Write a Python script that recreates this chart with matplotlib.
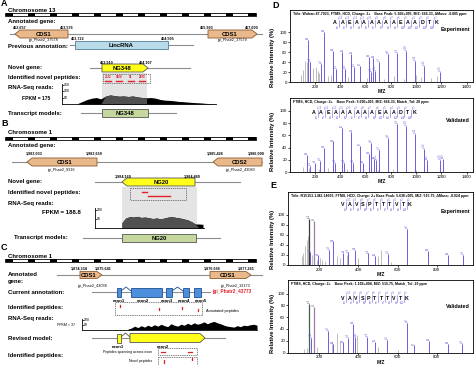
import matplotlib
matplotlib.use("Agg")
import matplotlib.pyplot as plt
import numpy as np
from matplotlib.patches import Polygon, Rectangle

plt.rcParams["font.family"] = ["Liberation Sans", "DejaVu Sans"]

W, H = 474, 365

# ---------------- data: panel A ----------------
A_CHROM = "Chromosome 13"
A_CDS_NAMES = ["CDS1", "CDS1"]
A_CDS_COORDS = [("462,657", "463,576"), ("465,993", "467,000")]
A_CDS_IDS = ["jgi_Phatr2_37578", "jgi_Phatr2_37579"]
A_LINC = ["LincRNA", "463,722", "464,505"]
A_NOVEL = ["NG348", "463,910", "464,107"]
A_PEPTIDES = ["2532", "3668", "56", "2699"]
A_FPKM = "175"
A_COV = [5, 20, 35, 45, 50, 40, 60, 70, 65, 60, 62, 58, 62, 55, 50, 48,
         50, 45, 35, 30, 28, 25, 20, 18, 15, 12, 10, 8, 5, 2, 0]

# ---------------- data: panel B ----------------
B_CHROM = "Chromosome 1"
B_CDS_NAMES = ["CDS1", "CDS2"]
B_CDS_COORDS = [("1,983,033", "1,983,659"), ("1,985,426", "1,986,000")]
B_CDS_IDS = ["jgi_Phatr2_9316", "jgi_Phatr2_43083"]
B_NOVEL = ["NG20", "1,984,169", "1,984,480"]
B_FPKM = "188.8"
B_COV = [30, 55, 62, 60, 64, 58, 60, 56, 52, 55, 50, 55, 60, 62, 58, 55,
         50, 45, 35, 22, 22, 20]

# ---------------- data: panel C ----------------
C_CHROM = "Chromosome 1"
C_CDS_COORDS = [("1,874,334", "1,875,641"), ("1,876,656", "1,877,261")]
C_CDS_IDS = ["jgi_Phatr2_43038", "jgi_Phatr2_32173"]
C_CURRENT_ID = "jgi_Phatr2_43773"
C_EXONS = ["exon1", "exon2", "exon3", "exon4", "exon5"]
C_REVISED_EXONS = ["exon1", "exon2"]
C_FPKM = "37"
C_COV = [5, 15, 35, 20, 40, 25, 45, 30, 50, 35, 55, 40, 30, 60, 45, 35,
         55, 45, 65, 50, 70, 55, 65, 80, 60, 75, 85, 70, 60, 45, 35, 30,
         25, 40, 30, 45, 40, 50, 55, 45]

# ---------------- data: panel D spectra ----------------
D_SEQ = "AAEAAAAAAEAADTK"
D_EXP_TITLE = ("Title: Wuhan-87-7923, FTMS, HCD, Charge: 2+    Base Peak: 5.16E+005, "
               "M/Z: 666.33, \u0394Mass: -0.005 ppm")
D_EXP_MZ = [140, 157, 245, 271, 343, 363, 415, 434, 487, 505, 556, 627, 641,
            661, 674, 705, 776, 847, 918, 989, 1060, 1189]
D_EXP_INT = [85, 40, 37, 100, 62, 27, 60, 27, 56, 30, 32, 50, 20, 48, 22, 40,
             56, 58, 62, 42, 32, 20]
D_EXP_ION = ["b2", "y1", "y2", "b3", "b4", "y3", "b5", "y4", "b6", "y5", "b7",
             "b8", "y6", "b9", "y6+", "y7", "y8", "y9", "y10", "y11", "y12", "y13"]
D_EXP_OTHER_MZ = [87, 100, 118, 134, 179, 205, 218, 232, 298, 324, 456, 482,
                  614, 746, 825, 904, 997, 1036, 1116, 1168]
D_EXP_OTHER_INT = [15, 25, 42, 40, 28, 30, 22, 18, 12, 15, 10, 8, 8, 6, 12, 6,
                   15, 10, 8, 12]

D_VAL_TITLE = ("FTMS, HCD, Charge: 2+    Base Peak: 5.00E+003, M/Z: 666.33, "
               "Match_Tol: 20 ppm")
D_VAL_MZ = [131, 157, 196, 235, 268, 340, 358, 410, 428, 487, 502, 556, 578,
            622, 641, 662, 682, 706, 777, 850, 922, 990, 1059, 1085, 1189, 1214]
D_VAL_INT = [28, 10, 15, 18, 40, 50, 15, 72, 15, 65, 15, 42, 15, 30, 48, 22,
             20, 36, 55, 78, 75, 62, 38, 20, 20, 22]
D_VAL_ION = ["b2", "y1", "a3", "y2", "b3", "b4", "y3", "b5", "y4", "b6", "y5",
             "b7", "a8", "b8", "y6", "b9", "y6+", "y7", "y8", "y9", "y10",
             "y11", "y12", "b12", "y13", "b13"]
D_VAL_OTHER_MZ = [100, 150, 230, 300, 450, 580, 700, 820, 1000]
D_VAL_OTHER_INT = [8, 6, 5, 6, 5, 5, 4, 5, 3]

# ---------------- data: panel E spectra ----------------
E_SEQ = "VAVSPTTTVTK"
E_EXP_TITLE = ("Title: R15153-1-M3.14666, FTMS, HCD, Charge: 2+ Base Peak: 5.63E+005, "
               "M/Z: 515.75, \u0394Mass: -0.024 ppm")
E_EXP_MZ = [152, 192, 248, 270, 323, 347, 381, 448, 482, 549, 650, 757, 856, 933]
E_EXP_INT = [25, 19, 30, 47, 24, 25, 30, 23, 18, 22, 72, 28, 20, 20]
E_EXP_ION = ["y1+", "a2", "y2", "b3", "a4", "y3", "b4", "y4", "b5", "y5", "y6",
             "b8", "b9", "y9"]
E_EXP_KEY_MZ = [147, 171]
E_EXP_KEY_INT = [92, 87]
E_EXP_OTHER_MZ = [110, 119, 127, 136, 141, 161, 186, 203, 212, 229, 290, 305,
                  339, 398, 499, 516, 567]
E_EXP_OTHER_INT = [18, 23, 37, 50, 57, 20, 10, 13, 10, 7, 17, 13, 20, 13, 17, 30, 5]

E_VAL_TITLE = ("FTMS, HCD, Charge: 2+    Base Peak: 1.10E+004, M/Z: 515.75, "
               "Match_Tol: 20 ppm")
E_VAL_MZ = [158, 246, 271, 322, 347, 372, 384, 445, 482, 546, 650, 682, 758, 857, 930]
E_VAL_INT = [25, 37, 15, 17, 25, 48, 27, 26, 18, 22, 50, 12, 20, 15, 15]
E_VAL_ION = ["y1+", "y2", "b3", "a4", "y3", "b4", "a4+", "y4", "b5", "y5", "y6",
             "b7", "b8", "b9", "y9"]
E_VAL_KEY_MZ = [148, 171]
E_VAL_KEY_INT = [82, 77]
E_VAL_OTHER_MZ = [120, 135, 186, 263, 288, 305, 391, 499, 600]
E_VAL_OTHER_INT = [6, 8, 10, 18, 33, 20, 30, 10, 4]
KEY_IONS = ["y1", "b2"]

# ---------------- style ----------------
LINE = "#8c8c8c"
TAN = "#e9b98b"
TAN_EDGE = "#8a5a30"
YELLOW = "#ffff1a"
BLUE_BOX = "#b9dbe9"
GREEN_BOX = "#c4d89e"
EXON_BLUE = "#4d8fdc"
RED = "#e0202a"
PEAK_BLUE = "#6c5ce0"
PEAK_GREY = "#bdbdbd"
LBL = 4.3      # row label size
TINY = 2.7     # coordinate label size

fig = plt.figure(figsize=(W / 100, H / 100), dpi=100)
cv = fig.add_axes([0, 0, 1, 1])
cv.set_xlim(0, W)
cv.set_ylim(H, 0)
cv.axis("off")


def label(x, y, s, size=LBL, bold=True, color="black", ha="left"):
    cv.text(x, y, s, fontsize=size, fontweight="bold" if bold else "normal",
            color=color, ha=ha, va="center", zorder=6)


def track(x0, x1, y):
    cv.plot([x0, x1], [y, y], color=LINE, lw=0.8, zorder=1)


def chrom_bar(y, x0=5, x1=256):
    cv.add_patch(Rectangle((x0, y - 1.8), x1 - x0, 3.6, fc="white", ec="black",
                           lw=0.6, zorder=2))
    for xs in np.arange(x0 + 1, x1 - 6, 22):
        cv.add_patch(Rectangle((xs, y - 1.8), 7, 3.6, fc="black", lw=0, zorder=3))
    cv.add_patch(Rectangle((x1 - 7, y - 1.8), 7, 3.6, fc="black", lw=0, zorder=3))


def feature(x0, x1, y, fc, ec="#444444", text=None, arrow=None, h=8, size=4.2):
    hh = h / 2
    tip = 5
    if arrow == "left":
        pts = [(x0 - tip, y), (x0, y - hh), (x1, y - hh), (x1, y + hh), (x0, y + hh)]
    elif arrow == "right":
        pts = [(x0, y - hh), (x1, y - hh), (x1 + tip, y), (x1, y + hh), (x0, y + hh)]
    else:
        pts = [(x0, y - hh), (x1, y - hh), (x1, y + hh), (x0, y + hh)]
    cv.add_patch(Polygon(pts, closed=True, fc=fc, ec=ec, lw=0.6, zorder=4))
    if text:
        label((x0 + x1) / 2, y + 0.3, text, size=size, ha="center")


def chevron(xa, xb, y, color="#1f4f8f"):
    cv.plot([xa, (xa + xb) / 2, xb], [y - 1, y - 5, y - 1], color=color, lw=0.6, zorder=3)


def dashed_box(x0, y0, x1, y1):
    cv.add_patch(Rectangle((x0, y0), x1 - x0, y1 - y0, fc="none", ec="#555555",
                           lw=0.5, ls=(0, (2, 1.2)), zorder=5))


def coverage(left, right, top, bottom, ymax, ticks, vals, x_from, x_to, hl=None):
    ax = fig.add_axes([left / W, 1 - bottom / H, (right - left) / W, (bottom - top) / H])
    ax.patch.set_alpha(0)
    xs = np.linspace(x_from, x_to, len(vals))
    ax.fill_between(xs, 0, vals, color="black", lw=0)
    if hl is not None:
        mask = (xs >= hl[0]) & (xs <= hl[1])
        ax.fill_between(xs, 0, vals, where=mask, color="#505050", lw=0, interpolate=True)
    ax.set_xlim(left, right)
    ax.set_ylim(0, ymax)
    for s in ["top", "right"]:
        ax.spines[s].set_visible(False)
    for s in ["left", "bottom"]:
        ax.spines[s].set_linewidth(0.6)
    ax.set_xticks([])
    ax.set_yticks(ticks)
    ax.tick_params(axis="y", direction="in", length=1.5, width=0.5, labelleft=False)
    for t in ticks:
        ax.text(left + 2.2, t, str(t), fontsize=2.5, va="center", ha="left")
    return ax


# ================= Panel A =================
label(1, 4, "A", size=6.5)
label(8, 10, A_CHROM)
chrom_bar(14.5)
label(8, 21, "Annotated gene:")
track(10, 262, 34)
feature(20, 68, 34, TAN, TAN_EDGE, A_CDS_NAMES[0], "left")
feature(208, 252, 34, TAN, TAN_EDGE, A_CDS_NAMES[1], "right")
for cx, (c0, c1), gid, (x0, x1) in zip([43, 232], A_CDS_COORDS, A_CDS_IDS,
                                       [(20, 67), (207, 252)]):
    label(x0, 27.5, c0, size=TINY, ha="center")
    label(x1, 27.5, c1, size=TINY, ha="center")
    label(cx, 40.5, gid, size=TINY, ha="center", bold=False)

label(8, 46, "Previous annotation:")
track(70, 193, 45)
feature(75, 168, 45, BLUE_BOX, "#4f7f99", A_LINC[0])
label(78, 38, A_LINC[1], size=TINY, ha="center")
label(168, 38, A_LINC[2], size=TINY, ha="center")

label(8, 68, "Novel gene:")
track(90, 190, 68)
feature(102, 143, 68, YELLOW, "#555555", A_NOVEL[0], "right")
label(107, 62, A_NOVEL[1], size=TINY, ha="center")
label(146, 62, A_NOVEL[2], size=TINY, ha="center")

cv.add_patch(Rectangle((102, 73), 45, 31, fc="#e4e4e4", lw=0, zorder=0))
label(8, 78, "Identified novel peptides:")
dashed_box(103, 74, 150, 83)
for i, p in enumerate(A_PEPTIDES):
    px = 108 + i * 11.5
    label(px, 77, p, size=2.2, color=RED, ha="center")
    cv.plot([px - 3, px + 3], [80.5, 80.5], color=RED, lw=1.0, zorder=6)

label(8, 88, "RNA-Seq reads:")
label(22, 98, f"FPKM = {A_FPKM}", size=3.6)
coverage(62, 216, 84, 104, 155, [50, 100, 150], A_COV, 78, 215, hl=(102, 147))

label(8, 113, "Transcript models:")
track(81, 176, 113)
feature(102, 148, 113, GREEN_BOX, "#555555", A_NOVEL[0])

# ================= Panel B =================
label(1, 124, "B", size=6.5)
label(8, 132, B_CHROM)
chrom_bar(138.5)
label(8, 145, "Annotated gene:")
track(12, 262, 162)
feature(32, 97, 162, TAN, TAN_EDGE, B_CDS_NAMES[0], "left")
feature(218, 262, 162, TAN, TAN_EDGE, B_CDS_NAMES[1], "left")
for cx, (c0, c1), gid, (x0, x1) in zip([61, 240], B_CDS_COORDS, B_CDS_IDS,
                                       [(34, 94), (215, 256)]):
    label(x0, 153.5, c0, size=TINY, ha="center")
    label(x1, 153.5, c1, size=TINY, ha="center")
    label(cx, 170, gid, size=TINY, ha="center", bold=False)

label(8, 182, "Novel gene:")
track(95, 240, 182)
feature(127, 195, 182, YELLOW, "#555555", B_NOVEL[0], "left")
label(123, 176, B_NOVEL[1], size=TINY, ha="center")
label(192, 176, B_NOVEL[2], size=TINY, ha="center")

cv.add_patch(Rectangle((122, 186.5), 75, 41.5, fc="#e4e4e4", lw=0, zorder=0))
label(8, 192.5, "Identified novel peptides:")
dashed_box(130, 188, 186, 200)
cv.plot([142, 147], [191.5, 191.5], color=RED, lw=1.0, zorder=6)
cv.plot([148, 170], [195.5, 195.5], color=RED, lw=1.0, zorder=6)

label(8, 203, "RNA-Seq reads:")
label(42, 212, f"FPKM = {B_FPKM}", size=4.3)
coverage(95, 204, 208, 228, 110, [50, 100], B_COV, 122, 203, hl=(122, 196))

label(14, 238, "Transcript models:")
track(83, 220, 238)
feature(122, 196, 238, GREEN_BOX, "#555555", B_NOVEL[0])

# ================= Panel C =================
label(1, 247, "C", size=6.5)
label(8, 256, C_CHROM)
chrom_bar(260.5)
label(8, 274, "Annotated")
label(8, 282, "gene:")
track(57, 262, 275)
feature(80, 97, 275, TAN, TAN_EDGE, "CDS1", "right", h=7)
feature(210, 246, 275, TAN, TAN_EDGE, "CDS1", "right", h=7)
for cx, (c0, c1), gid, (x0, x1) in zip([92, 235], C_CDS_COORDS, C_CDS_IDS,
                                       [(79, 103), (212, 246)]):
    label(x0, 268, c0, size=TINY, ha="center")
    label(x1, 268, c1, size=TINY, ha="center")
    label(cx, 286, gid, size=TINY, ha="center", bold=False)

label(8, 292, "Current annotation:")
track(92, 210, 292)
exon_x = [(117, 121), (131, 162), (166, 172), (183, 189), (194, 201)]
exon_lx = [119, 143, 167, 184, 201]
for (x0, x1), name, lx in zip(exon_x, C_EXONS, exon_lx):
    feature(x0, x1, 292, EXON_BLUE, "#1f4f8f", h=9)
    label(lx, 301, name, size=3.1, ha="center")
chevron(121, 131, 292)
chevron(172, 183, 292)
label(212, 292, C_CURRENT_ID, size=3.4, color=RED)

label(8, 308, "Identified peptides:")
dashed_box(115, 302, 202, 315)
for px, py in zip([120, 159, 182, 198], [306, 309, 308, 310]):
    cv.plot([px, px], [py - 1.2, py + 1.2], color=RED, lw=0.9, zorder=6)
label(206, 311, "Annotated peptides", size=2.8, bold=False)

label(8, 318.5, "RNA-Seq reads:")
label(57, 325, f"FPKM = {C_FPKM}", size=2.6, bold=False)
coverage(82, 257, 319, 329.5, 110, [50, 100], C_COV, 128, 257)

label(8, 338, "Revised model:")
track(92, 225, 338)
feature(117, 121, 338, YELLOW, "#555555", h=9)
chevron(121, 130, 338, color="#555555")
feature(130, 200, 338, YELLOW, "#555555", arrow="right", h=9)
label(118, 347, C_REVISED_EXONS[0], size=3.1, ha="center")
label(163, 347, C_REVISED_EXONS[1], size=3.1, ha="center")

label(8, 356, "Identified peptides:")
label(152, 352, "Peptides spanning across exon", size=2.5, ha="right", bold=False)
dashed_box(158, 348, 197, 355)
label(152, 361, "Novel peptides", size=2.5, ha="right", bold=False)
dashed_box(158, 357, 197, 364.5)
for px, py in zip([163, 190], [351.5, 351.5]):
    cv.plot([px - 2, px + 2], [py, py], color=RED, lw=0.9, zorder=6)
for px, py in zip([164, 192], [361.5, 359]):
    cv.plot([px, px], [py - 1.3, py + 1.3], color=RED, lw=0.9, zorder=6)


# ================= Spectra =================
def spectrum(box, xlim, ymax, xticks, mz, inten, ions, omz, oint, title, tag,
             tag_y, seq, seq_x, seq_y, key_mz=(), key_int=(), key_col=()):
    left, top, right, bottom = box
    ax = fig.add_axes([left / W, 1 - bottom / H, (right - left) / W, (bottom - top) / H])
    ax.vlines(omz, 0, oint, color=PEAK_GREY, lw=0.7)
    ax.vlines(mz, 0, inten, color=PEAK_BLUE, lw=0.7)
    for m, v, s in zip(mz, inten, ions):
        ax.text(m, v + 1.5, s, rotation=90, fontsize=2.0, color=PEAK_BLUE,
                ha="center", va="bottom")
    for m, v, c, s in zip(key_mz, key_int, key_col, KEY_IONS):
        ax.vlines(m, 0, v, color=c, lw=0.9)
        ax.text(m, v + 1.5, s, rotation=90, fontsize=2.0, color=c,
                ha="center", va="bottom")
    ax.set_xlim(*xlim)
    ax.set_ylim(0, ymax)
    ax.set_xticks(xticks)
    ax.set_yticks([0, 20, 40, 60, 80, 100])
    ax.tick_params(labelsize=3.2, length=1.5, width=0.5, pad=0.6)
    for s in ax.spines.values():
        s.set_linewidth(0.6)
    ax.set_xlabel("M/Z", fontsize=3.4, fontweight="bold", labelpad=0.2)
    ax.set_ylabel("Relative Intensity (%)", fontsize=4.2, fontweight="bold")
    ax.yaxis.set_label_coords((275 - left) / (right - left), 50 / ymax)
    ax.text(0.015, 0.975, title, transform=ax.transAxes, fontsize=2.5,
            fontweight="bold", va="top", ha="left")
    ax.text(0.985, (bottom - tag_y) / (bottom - top), tag, transform=ax.transAxes,
            fontsize=3.9, fontweight="bold", va="center", ha="right")
    # peptide sequence with fragment marks
    n = len(seq)
    step = (seq_x[1] - seq_x[0]) / (n - 1)
    fx = lambda px: (px - left) / (right - left)
    fy = lambda py: (bottom - py) / (bottom - top)
    for i, aa in enumerate(seq):
        ax.text(fx(seq_x[0] + i * step), fy(seq_y), aa, transform=ax.transAxes,
                fontsize=3.8, fontweight="bold", ha="center", va="center")
    for i in range(1, n):
        gx = seq_x[0] + (i - 0.5) * step
        ax.plot([fx(gx), fx(gx)], [fy(seq_y - 3.5), fy(seq_y + 3.5)],
                transform=ax.transAxes, color=PEAK_BLUE, lw=0.4)
        ax.text(fx(gx + 1.5), fy(seq_y - 5), f"y{n - i}", transform=ax.transAxes,
                fontsize=1.8, color=PEAK_BLUE, ha="center", va="center")
        ax.text(fx(gx - 1.5), fy(seq_y + 5), f"b{i}", transform=ax.transAxes,
                fontsize=1.8, color=PEAK_BLUE, ha="center", va="center")
    return ax


label(272, 5, "D", size=6.5)
label(270, 185, "E", size=6.5)

d_ticks = [200, 400, 600, 800, 1000, 1200, 1400]
e_ticks = [200, 400, 600, 800]
key_cols_exp = ["#3a3a3a", "#9c7fa8"]
key_cols_val = ["#4d5d55", "#9c7fa8"]

spectrum((290, 10, 473, 82), (0, 1450), 144, d_ticks, D_EXP_MZ, D_EXP_INT,
         D_EXP_ION, D_EXP_OTHER_MZ, D_EXP_OTHER_INT, D_EXP_TITLE, "Experiment",
         30, D_SEQ, (335, 437), 23)
spectrum((290, 98, 473, 172), (0, 1450), 121, d_ticks, D_VAL_MZ, D_VAL_INT,
         D_VAL_ION, D_VAL_OTHER_MZ, D_VAL_OTHER_INT, D_VAL_TITLE, "Validated",
         121, D_SEQ, (314, 415), 113)
spectrum((288, 192, 473, 265), (40, 985), 145, e_ticks, E_EXP_MZ, E_EXP_INT,
         E_EXP_ION, E_EXP_OTHER_MZ, E_EXP_OTHER_INT, E_EXP_TITLE, "Experiment",
         212, E_SEQ, (343, 410), 205, E_EXP_KEY_MZ, E_EXP_KEY_INT, key_cols_exp)
spectrum((288, 280, 473, 352.5), (40, 985), 123, e_ticks, E_VAL_MZ, E_VAL_INT,
         E_VAL_ION, E_VAL_OTHER_MZ, E_VAL_OTHER_INT, E_VAL_TITLE, "Validated",
         306, E_SEQ, (343, 407), 298, E_VAL_KEY_MZ, E_VAL_KEY_INT, key_cols_val)

fig.savefig("out.png", dpi=100)
